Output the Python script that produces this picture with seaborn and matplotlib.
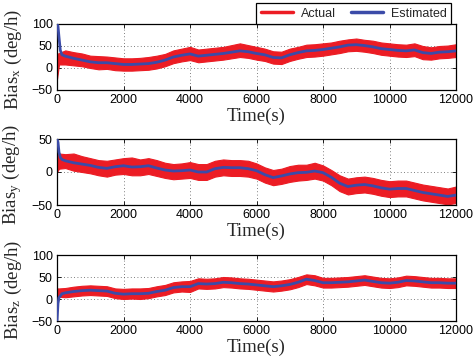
import numpy as np
import pandas as pd
import matplotlib
matplotlib.use("Agg")
import matplotlib.pyplot as plt
from matplotlib.lines import Line2D
import seaborn as sns

# ---------------- data ----------------
t_est = [0, 30, 60, 100, 150] + list(range(250, 12001, 250))
t_act = [0, 60] + list(range(250, 12001, 250))

est_x = [100, 95, 70, 40, 30,
         27, 22, 18, 14, 12, 12, 10, 8, 8, 9, 10, 13, 18, 25, 29, 32, 27, 29, 31, 33,
         36, 39, 37, 33, 30, 24, 23, 30, 35, 39, 40, 42, 45, 48, 52, 53, 51, 48, 44,
         42, 40, 39, 41, 35, 33, 36, 37, 39]
act_x_hi = [32, 34,
            40, 36, 33, 28, 27, 26, 24, 22, 22, 23, 25, 28, 32, 40, 44, 48, 42, 44, 46,
            48, 52, 56, 52, 48, 44, 38, 37, 44, 48, 53, 54, 56, 58, 62, 65, 67, 64, 62,
            58, 56, 54, 53, 56, 50, 47, 50, 51, 54]
act_x_lo = [-25, 8,
            8, 6, 4, 0, -3, -2, -5, -6, -6, -5, -4, -1, 4, 11, 15, 18, 13, 15, 17,
            19, 22, 25, 23, 19, 16, 10, 9, 16, 21, 25, 26, 28, 31, 34, 38, 39, 37, 34,
            30, 28, 26, 25, 27, 20, 19, 22, 23, 25]

est_y = [50, 45, 30, 22, 19,
         17, 14, 12, 10, 7, 5.5, 8, 9.5, 7.5, 8, 9.5, 6, 3, 1.5, 2, 3, 0, 0, 5, 7,
         6.5, 6.5, 5, 2, -4, -8.5, -6, -3, -1, -0.5, 1.5, -1, -8, -17, -22, -20, -19,
         -21, -24, -26, -25, -25, -28, -31, -33, -35, -37, -35]
act_y_hi = [27, 28,
            27, 28, 24, 21, 18, 17, 19, 21, 22, 19, 21, 18, 14, 12, 13, 15, 12, 12, 17,
            19, 18, 18, 17, 13, 7, 3, 5, 9, 11, 11, 14, 10, 3, -5, -10, -8, -7, -9,
            -12, -14, -13, -13, -16, -19, -21, -23, -25, -22]
act_y_lo = [0, 5,
            6, 2, 0, -2, -5, -7, -4, -3, -5, -5, -3, -6, -9, -11, -10, -9, -12, -12, -7,
            -5, -6, -6, -7, -10, -16, -20, -18, -15, -13, -12, -10, -13, -20, -29, -34,
            -32, -31, -33, -36, -38, -37, -37, -40, -43, -45, -47, -49, -47]

est_z = [-50, -10, 3, 7, 12,
         14, 17, 19, 20, 19, 18, 13, 11, 12, 12, 13, 17, 20, 26, 28, 28, 35, 34, 35,
         38, 37, 35, 34, 32, 30, 28, 30, 33, 38, 45, 42, 37, 37, 38, 39, 41, 43, 40,
         37, 36, 38, 42, 41, 39, 37, 37, 36, 36]
act_z_hi = [24, 24,
            25, 28, 30, 31, 30, 29, 24, 23, 24, 24, 25, 29, 32, 38, 40, 41, 47, 46, 47,
            50, 49, 47, 46, 44, 42, 40, 42, 45, 50, 56, 54, 48, 48, 49, 50, 52, 54, 51,
            48, 47, 49, 53, 52, 50, 48, 48, 47, 47]
act_z_lo = [5, 5,
            4, 6, 8, 9, 8, 7, 2, 0, 1, 0, 2, 6, 9, 15, 17, 16, 24, 23, 24,
            27, 26, 24, 23, 21, 19, 17, 19, 22, 27, 34, 31, 26, 26, 27, 28, 30, 32, 29,
            26, 25, 27, 31, 30, 28, 26, 26, 25, 25]

axis_names = ["x", "y", "z"]
y_limits = [(-50, 100), (-50, 50), (-50, 100)]
y_ticks = [[-50, 0, 50, 100], [-50, 0, 50], [-50, 0, 50, 100]]
x_ticks = [0, 2000, 4000, 6000, 8000, 10000, 12000]
legend_labels = ["Actual", "Estimated"]

# ---------------- style ----------------
sns.set_theme(style="white")
plt.rcParams["font.family"] = ["Liberation Sans", "DejaVu Sans"]
plt.rcParams["mathtext.fontset"] = "stix"
plt.rcParams["xtick.direction"] = "in"
plt.rcParams["ytick.direction"] = "in"

RED = "#ec1c24"
BLUE = "#3b4ba8"

fig = plt.figure(figsize=(4.74, 3.59), dpi=100)
left, width, height = 57 / 474, 399 / 474, 66 / 359
bottoms = [1 - 90 / 359, 1 - 205 / 359, 1 - 321 / 359]

ests = [est_x, est_y, est_z]
his = [act_x_hi, act_y_hi, act_z_hi]
los = [act_x_lo, act_y_lo, act_z_lo]

for i in range(3):
    ax = fig.add_axes([left, bottoms[i], width, height])
    ax.fill_between(t_act, los[i], his[i], color=RED, lw=0.8, edgecolor=RED, zorder=2)
    df = pd.DataFrame({"t": t_est, "v": ests[i]})
    sns.lineplot(data=df, x="t", y="v", ax=ax, color=BLUE, lw=2.0, zorder=3,
                 legend=False)
    ax.set_xlim(0, 12000)
    ax.set_ylim(*y_limits[i])
    ax.set_xticks(x_ticks)
    ax.set_yticks(y_ticks[i])
    ax.tick_params(labelsize=9, length=3, width=0.6, colors="black", pad=3,
                   top=True, right=True, bottom=True, left=True)
    ax.grid(True, linestyle=(0, (1, 3)), color="#555555", lw=0.6, zorder=0)
    for s in ax.spines.values():
        s.set_color("black")
        s.set_linewidth(0.9)
    ax.set_xlabel("Time(s)", fontsize=13.5, family=["Liberation Serif"], labelpad=1)
    ax.set_ylabel(r"Bias$_{\mathregular{%s}}$ (deg/h)" % axis_names[i], fontsize=13.5,
                  family=["Liberation Serif"], labelpad=2)
    ax.yaxis.set_label_coords(-0.082, 0.47)

handles = [Line2D([0], [0], color=RED, lw=2.5), Line2D([0], [0], color=BLUE, lw=2.5)]
leg = fig.legend(handles, legend_labels, loc="upper right", ncol=2,
                 bbox_to_anchor=(457 / 474, 1 + 3 / 359), fontsize=9,
                 frameon=True, fancybox=False, edgecolor="black", framealpha=1,
                 handlelength=2.6, columnspacing=1.2, borderpad=0.35,
                 handletextpad=0.6)
leg.get_frame().set_linewidth(0.9)

fig.savefig("out.png", dpi=100)
